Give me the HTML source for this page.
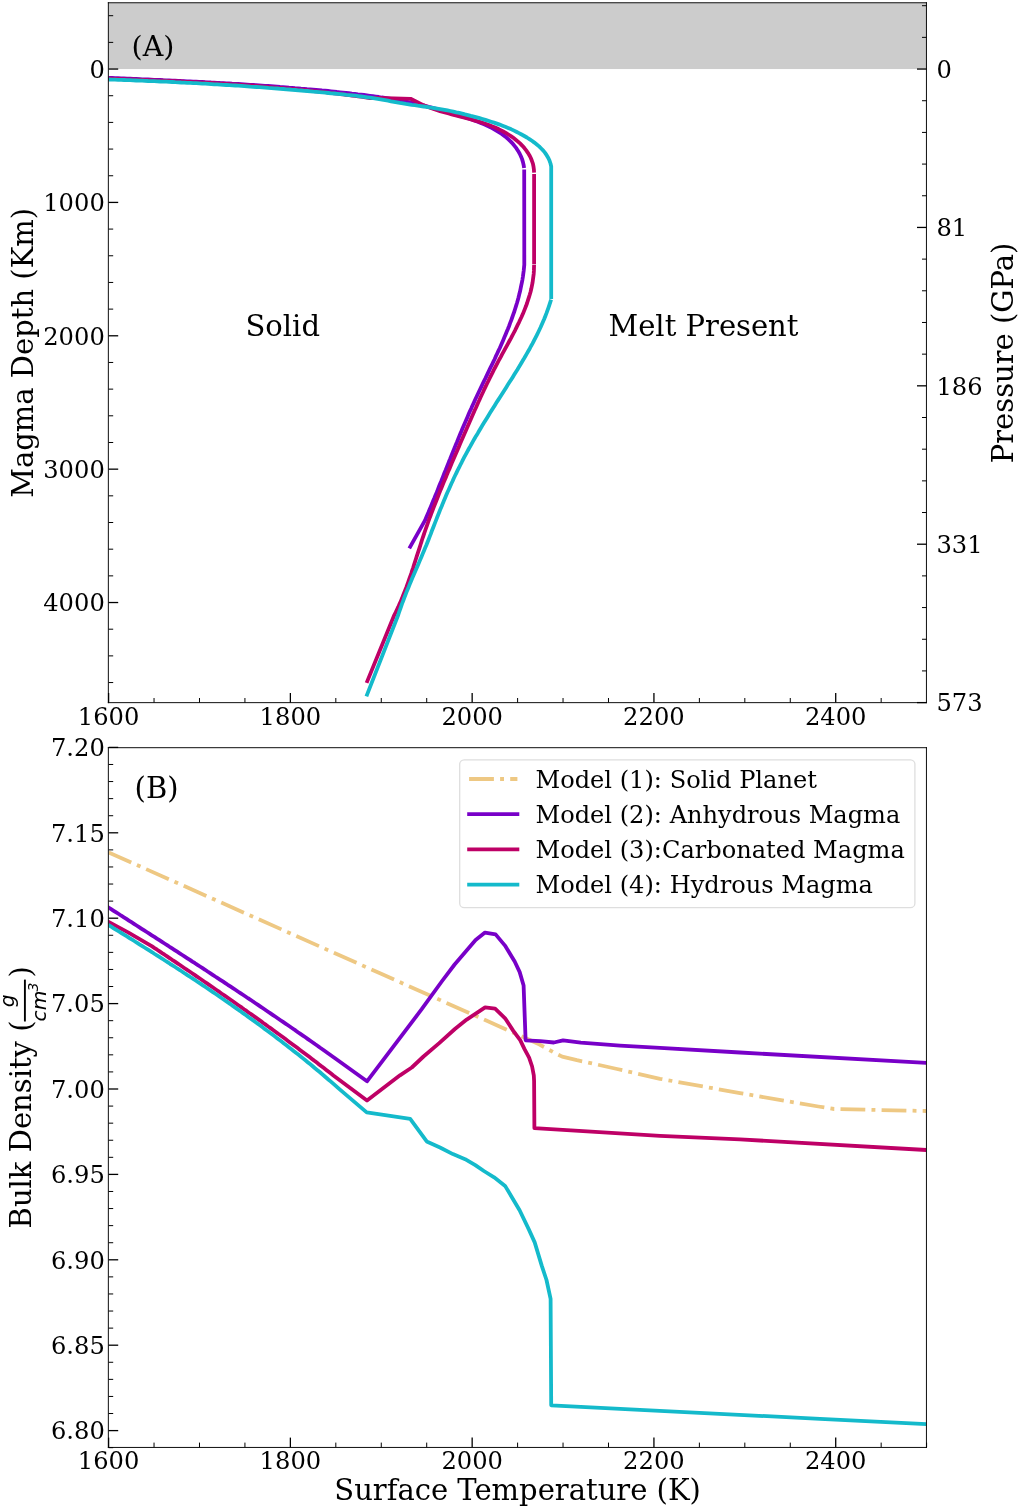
<!DOCTYPE html>
<html><head><meta charset="utf-8"><title>Figure</title>
<style>html,body{margin:0;padding:0;background:#fff;} svg{display:block;}</style>
</head><body>
<svg width="1020" height="1509" viewBox="0 0 1020 1509">
<rect x="0" y="0" width="1020" height="1509" fill="#ffffff"/>
<defs>
<clipPath id="ca"><rect x="108.6" y="3.0" width="818.0" height="699.6"/></clipPath>
<clipPath id="cb"><rect x="108.6" y="747.4" width="818.0" height="699.8000000000001"/></clipPath>
</defs>
<rect x="108.6" y="3.0" width="818.0" height="66.05" fill="#cccccc"/>
<g clip-path="url(#ca)">
<polyline points="100.0,77.5 103.0,77.6 106.0,77.7 109.0,77.9 112.0,78.0 115.0,78.1 118.0,78.2 121.0,78.4 124.0,78.5 127.0,78.6 130.1,78.7 133.1,78.9 136.1,79.0 139.1,79.1 142.1,79.3 145.1,79.4 148.1,79.5 151.1,79.6 154.1,79.8 157.1,79.9 160.1,80.0 163.1,80.2 166.1,80.3 169.1,80.4 172.1,80.6 175.1,80.7 178.1,80.8 181.1,81.0 184.1,81.1 187.1,81.3 190.1,81.4 193.1,81.6 196.1,81.7 199.1,81.9 202.1,82.0 205.1,82.2 208.1,82.3 211.1,82.5 214.1,82.6 217.1,82.8 220.1,83.0 223.1,83.1 226.1,83.3 229.1,83.5 232.1,83.7 235.1,83.8 238.1,84.0 241.0,84.2 244.0,84.4 247.0,84.6 250.0,84.8 253.0,85.0 256.0,85.2 259.0,85.4 262.0,85.6 265.0,85.8 268.0,86.0 271.0,86.2 274.0,86.4 277.0,86.6 280.0,86.9 283.0,87.1 286.0,87.3 289.0,87.6 292.0,87.8 295.0,88.1 298.0,88.3 301.0,88.6 304.0,88.8 307.0,89.1 310.0,89.3 313.0,89.6 316.0,89.9 319.0,90.2 322.0,90.5 325.0,90.7 328.0,91.0 331.0,91.3 333.9,91.6 336.9,92.0 339.9,92.3 342.9,92.6 345.9,92.9 348.9,93.2 351.9,93.6 354.9,93.9 357.9,94.3 360.9,94.6 363.9,95.0 366.9,95.4 369.9,95.8 372.9,96.2 375.8,96.6 378.8,97.0 381.8,97.5 384.8,97.9 387.7,98.4 390.7,98.9 393.6,99.4 396.6,99.9 399.5,100.4 402.5,101.0 405.4,101.6 408.3,102.2 411.3,102.8 414.2,103.4 417.1,104.0 420.0,104.7 422.9,105.4 425.8,106.1 428.7,106.9 431.6,107.6 434.4,108.4 437.3,109.2 440.2,110.0 443.1,110.8 445.9,111.6 448.8,112.5 451.7,113.3 454.6,114.2 457.5,115.1 460.5,115.9 463.4,116.8 466.3,117.8 469.2,118.7 472.1,119.7 475.0,120.7 477.8,121.8 480.7,122.9 483.5,124.1 486.2,125.3 488.9,126.5 491.6,127.9 494.2,129.3 496.8,130.8 499.3,132.4 501.8,134.0 504.1,135.8 506.5,137.6 508.7,139.6 510.8,141.6 512.8,143.8 514.7,146.1 516.5,148.4 518.1,150.9 519.6,153.5 520.9,156.2 522.0,158.9 522.9,161.9 523.6,164.9 524.1,168.0" fill="none" stroke="#7800C8" stroke-width="3.8" stroke-linejoin="round" stroke-linecap="butt" />
<polyline points="524.2,169.6 524.3,264.7 524.0,267.8 523.7,270.8 523.3,273.8 522.9,276.8 522.4,279.8 521.8,282.8 521.2,285.7 520.6,288.7 520.0,291.6 519.2,294.6 518.5,297.5 517.7,300.4 516.9,303.2 516.0,306.1 515.1,309.0 514.2,311.8 513.2,314.7 512.2,317.5 511.2,320.3 510.1,323.2 509.1,326.0 508.0,328.8 506.8,331.6 505.7,334.3 504.5,337.1 503.3,339.9 502.1,342.7 500.9,345.4 499.7,348.2 498.4,350.9 497.1,353.7 495.8,356.4 494.6,359.2 493.3,361.9 492.0,364.7 490.6,367.4 489.3,370.1 488.0,372.9 486.7,375.6 485.4,378.4 484.0,381.1 482.7,383.8 481.4,386.6 480.1,389.3 478.8,392.0 477.5,394.8 476.2,397.5 474.9,400.3 473.7,403.0 472.4,405.8 471.2,408.6 469.9,411.3 468.7,414.1 467.5,416.9 466.3,419.7 465.1,422.4 463.9,425.2 462.7,428.0 461.6,430.8 460.4,433.6 459.2,436.4 458.1,439.2 457.0,442.0 455.8,444.8 454.7,447.6 453.5,450.4 452.4,453.2 451.3,456.0 450.2,458.8 449.0,461.6 447.9,464.4 446.8,467.2 445.7,470.0 444.5,472.8 443.4,475.6 442.3,478.4 441.2,481.2 440.0,484.0 438.9,486.8 437.8,489.6 436.7,492.4 435.5,495.2 434.4,498.0 433.2,500.8 432.1,503.6 430.9,506.4 429.7,509.2 428.6,512.0 427.4,514.8 426.2,517.6 425.0,520.4 409.3,548.4" fill="none" stroke="#7800C8" stroke-width="3.8" stroke-linejoin="round" stroke-linecap="butt" />
<polyline points="100.0,78.3 103.0,78.4 106.0,78.5 109.0,78.6 112.0,78.7 115.0,78.8 118.0,78.9 121.0,79.1 124.1,79.2 127.1,79.3 130.1,79.4 133.1,79.5 136.1,79.6 139.1,79.7 142.1,79.8 145.1,80.0 148.1,80.1 151.1,80.2 154.1,80.3 157.1,80.5 160.1,80.6 163.2,80.7 166.2,80.8 169.2,81.0 172.2,81.1 175.2,81.2 178.2,81.4 181.2,81.5 184.2,81.7 187.2,81.8 190.2,81.9 193.2,82.1 196.2,82.2 199.2,82.4 202.2,82.6 205.2,82.7 208.3,82.9 211.3,83.0 214.3,83.2 217.3,83.4 220.3,83.6 223.3,83.7 226.3,83.9 229.3,84.1 232.3,84.3 235.3,84.5 238.3,84.7 241.3,84.9 244.3,85.1 247.3,85.3 250.3,85.5 253.3,85.7 256.3,85.9 259.3,86.1 262.3,86.4 265.3,86.6 268.3,86.8 271.3,87.1 274.3,87.3 277.3,87.6 280.3,87.8 283.3,88.1 286.3,88.3 289.3,88.6 292.3,88.9 295.3,89.2 298.3,89.5 301.3,89.7 304.3,90.0 307.3,90.3 310.3,90.6 313.3,91.0 316.2,91.3 319.2,91.6 322.2,91.9 325.2,92.2 328.2,92.6 331.2,92.9 334.2,93.3 337.2,93.6 340.2,94.0 343.2,94.4 346.1,94.8 349.1,95.1 352.1,95.5 355.1,95.9 358.1,96.3 361.1,96.7 364.0,97.1 367.0,97.6 370.0,98.0 377.3,98.0 410.6,98.8 423.3,105.1 426.0,106.2 428.7,107.3 431.5,108.3 434.3,109.3 437.2,110.2 440.0,111.1 442.9,111.9 445.8,112.7 448.7,113.5 451.7,114.3 454.6,115.1 457.6,115.8 460.5,116.6 463.5,117.4 466.4,118.2 469.4,118.9 472.3,119.8 475.3,120.6 478.2,121.5 481.1,122.4 483.9,123.3 486.8,124.3 489.6,125.3 492.4,126.4 495.2,127.6 497.9,128.8 500.6,130.1 503.2,131.5 505.8,132.9 508.4,134.5 510.9,136.1 513.3,137.8 515.7,139.7 518.0,141.6 520.3,143.7 522.4,145.8 524.4,148.1 526.2,150.4 527.9,152.8 529.5,155.4 530.8,158.0 531.9,160.8 532.9,163.6 533.5,166.5 533.9,169.6 534.1,172.7" fill="none" stroke="#BE0066" stroke-width="3.8" stroke-linejoin="round" stroke-linecap="butt" />
<polyline points="534.1,174.0 534.1,264.2" fill="none" stroke="#BE0066" stroke-width="3.8" stroke-linejoin="round" stroke-linecap="butt" />
<polyline points="534.1,264.8 534.0,267.8 533.9,270.9 533.7,273.9 533.3,277.0 532.9,280.0 532.5,282.9 531.9,285.9 531.3,288.8 530.6,291.7 529.8,294.5 528.9,297.4 528.0,300.2 527.1,303.0 526.1,305.8 525.0,308.6 523.9,311.4 522.8,314.1 521.6,316.8 520.3,319.5 519.0,322.3 517.7,324.9 516.4,327.6 515.1,330.3 513.7,333.0 512.3,335.6 510.9,338.3 509.4,341.0 508.0,343.6 506.5,346.3 505.1,348.9 503.6,351.6 502.2,354.2 500.8,356.9 499.3,359.5 497.9,362.2 496.5,364.9 495.1,367.5 493.7,370.2 492.4,372.9 491.0,375.6 489.7,378.3 488.4,381.0 487.0,383.7 485.7,386.4 484.4,389.1 483.2,391.8 481.9,394.5 480.6,397.3 479.4,400.0 478.1,402.7 476.9,405.5 475.7,408.2 474.4,410.9 473.2,413.7 472.0,416.4 470.8,419.2 469.6,421.9 468.4,424.7 467.2,427.4 466.0,430.2 464.8,432.9 463.6,435.7 462.4,438.5 461.2,441.2 460.0,444.0 458.9,446.7 457.7,449.5 456.5,452.3 455.3,455.0 454.1,457.8 452.9,460.6 451.7,463.3 450.6,466.1 449.4,468.9 448.2,471.6 447.0,474.4 445.9,477.2 444.7,480.0 443.5,482.7 442.4,485.5 441.3,488.3 440.1,491.1 439.0,493.9 437.9,496.7 436.8,499.5 435.7,502.3 434.6,505.1 433.5,507.9 432.4,510.7 431.3,513.5 430.3,516.3 429.2,519.1 428.2,522.0 427.2,524.8 426.2,527.6 425.2,530.5 424.2,533.3 423.3,536.1 422.3,539.0 421.4,541.8 420.5,544.7 419.6,547.6 418.7,550.4 417.7,553.3 416.8,556.1 415.9,559.0 415.0,561.9 414.1,564.7 413.2,567.6 412.2,570.4 411.3,573.3 410.3,576.1 409.3,578.9 408.3,581.8 407.3,584.6 406.3,587.4 405.2,590.2 404.1,593.0 403.0,595.8 401.9,598.6 400.7,601.4 399.5,604.1 398.3,606.9 397.0,609.6 395.7,612.3 394.3,615.0 366.6,682.9" fill="none" stroke="#BE0066" stroke-width="3.8" stroke-linejoin="round" stroke-linecap="butt" />
<polyline points="100.0,79.2 103.0,79.3 106.0,79.4 109.0,79.5 112.0,79.6 115.0,79.7 118.1,79.8 121.1,79.9 124.1,80.0 127.1,80.1 130.1,80.2 133.1,80.4 136.1,80.5 139.1,80.6 142.1,80.7 145.1,80.8 148.1,81.0 151.2,81.1 154.2,81.2 157.2,81.3 160.2,81.5 163.2,81.6 166.2,81.7 169.2,81.9 172.2,82.0 175.2,82.2 178.2,82.3 181.2,82.5 184.2,82.6 187.2,82.8 190.3,82.9 193.3,83.1 196.3,83.2 199.3,83.4 202.3,83.6 205.3,83.7 208.3,83.9 211.3,84.1 214.3,84.3 217.3,84.4 220.3,84.6 223.3,84.8 226.3,85.0 229.3,85.2 232.3,85.4 235.3,85.5 238.3,85.7 241.4,85.9 244.4,86.1 247.4,86.3 250.4,86.6 253.4,86.8 256.4,87.0 259.4,87.2 262.4,87.4 265.4,87.6 268.4,87.9 271.4,88.1 274.4,88.3 277.4,88.5 280.4,88.8 283.4,89.0 286.4,89.3 289.4,89.5 292.4,89.8 295.4,90.0 298.4,90.3 301.4,90.5 304.4,90.8 307.4,91.0 310.4,91.3 313.4,91.6 316.4,91.8 319.4,92.1 322.4,92.4 325.4,92.7 328.4,93.0 331.4,93.3 334.4,93.5 337.4,93.8 340.4,94.1 343.4,94.4 346.4,94.8 349.4,95.1 352.4,95.4 355.4,95.7 358.3,96.1 361.3,96.5 364.3,96.9 367.3,97.3 370.3,97.7 373.2,98.2 376.2,98.7 379.2,99.2 382.1,99.7 385.1,100.2 388.1,100.7 391.0,101.3 394.0,101.8 397.0,102.3 399.9,102.9 402.9,103.4 405.9,103.9 408.8,104.3 411.8,104.8 414.8,105.2 417.8,105.7 420.8,106.1 423.7,106.5 426.7,106.9 429.7,107.4 432.7,107.8 435.7,108.3 438.6,108.8 441.6,109.3 444.5,109.8 447.5,110.4 450.4,111.0 453.3,111.6 456.3,112.3 459.2,112.9 462.1,113.6 465.0,114.4 467.9,115.1 470.8,115.9 473.8,116.6 476.7,117.4 479.6,118.2 482.5,119.0 485.4,119.9 488.3,120.8 491.1,121.7 494.0,122.6 496.9,123.6 499.7,124.6 502.5,125.7 505.3,126.8 508.1,127.9 510.9,129.1 513.6,130.4 516.3,131.7 519.0,133.1 521.6,134.5 524.3,136.0 526.9,137.5 529.4,139.1 531.9,140.8 534.4,142.6 536.8,144.5 539.1,146.4 541.2,148.5 543.3,150.6 545.1,152.9 546.8,155.4 548.3,157.9 549.5,160.6 550.5,163.5 551.2,166.5 551.2,298.9" fill="none" stroke="#14BACB" stroke-width="3.8" stroke-linejoin="round" stroke-linecap="butt" />
<polyline points="551.1,299.6 549.4,304.9 548.4,307.8 547.4,310.6 546.4,313.4 545.3,316.2 544.2,319.0 543.0,321.8 541.8,324.5 540.6,327.3 539.3,330.0 538.0,332.7 536.7,335.4 535.3,338.1 534.0,340.7 532.6,343.4 531.1,346.0 529.7,348.7 528.2,351.3 526.7,353.9 525.2,356.5 523.7,359.1 522.1,361.7 520.6,364.3 519.0,366.9 517.5,369.5 515.9,372.0 514.3,374.6 512.7,377.2 511.1,379.7 509.4,382.3 507.8,384.8 506.2,387.4 504.6,389.9 503.0,392.5 501.4,395.0 499.8,397.5 498.1,400.1 496.5,402.6 494.9,405.2 493.3,407.7 491.7,410.3 490.1,412.8 488.5,415.4 487.0,417.9 485.4,420.5 483.8,423.1 482.3,425.6 480.7,428.2 479.2,430.8 477.7,433.4 476.1,435.9 474.6,438.5 473.1,441.1 471.6,443.8 470.2,446.4 468.7,449.0 467.3,451.6 465.8,454.3 464.4,456.9 463.0,459.6 461.7,462.3 460.3,465.0 459.0,467.7 457.6,470.4 456.3,473.1 455.0,475.8 453.7,478.5 452.5,481.3 451.2,484.0 450.0,486.8 448.8,489.5 447.5,492.3 446.3,495.1 445.2,497.8 444.0,500.6 442.8,503.4 441.7,506.2 440.5,508.9 439.4,511.7 438.3,514.5 437.2,517.3 436.1,520.1 435.0,522.9 433.9,525.7 432.8,528.5 431.7,531.3 430.7,534.1 429.6,536.9 428.5,539.7 427.4,542.5 426.3,545.3 425.1,548.1 424.0,550.8 422.8,553.6 421.6,556.4 420.4,559.2 419.3,561.9 418.1,564.7 416.9,567.5 415.7,570.2 414.5,573.0 413.3,575.8 412.1,578.5 411.0,581.3 409.8,584.1 408.7,586.9 407.5,589.7 406.4,592.4 405.3,595.2 404.2,598.0 403.2,600.8 402.1,603.7 401.1,606.5 400.1,609.3 399.1,612.2 398.2,615.0 366.4,696.4" fill="none" stroke="#14BACB" stroke-width="3.8" stroke-linejoin="round" stroke-linecap="butt" />
</g>
<g clip-path="url(#cb)">
<polyline points="108.6,852.4 380.0,973.3 520.0,1035.6 539.6,1044.6 555.3,1053.2 562.2,1056.6 576.9,1060.2 586.7,1062.2 617.1,1069.0 660.0,1078.8 740.0,1093.1 818.4,1106.5 834.1,1109.0 926.3,1111.0" fill="none" stroke="#EEC883" stroke-width="3.8" stroke-linejoin="round" stroke-linecap="butt" stroke-dasharray="24.8 6.2 3.9 6.2"/>
<polyline points="100.0,902.0 108.6,907.5 111.1,909.1 113.7,910.8 116.2,912.4 118.8,914.0 121.3,915.7 123.9,917.3 126.4,918.9 128.9,920.6 131.5,922.2 134.0,923.8 136.6,925.5 139.1,927.1 141.7,928.8 144.2,930.4 146.7,932.0 149.3,933.7 151.8,935.3 154.4,936.9 156.9,938.6 159.4,940.2 162.0,941.9 164.5,943.5 167.1,945.1 169.6,946.8 172.1,948.4 174.7,950.1 177.2,951.7 179.7,953.3 182.3,955.0 184.8,956.6 187.4,958.3 189.9,959.9 192.4,961.6 195.0,963.2 197.5,964.9 200.0,966.5 202.6,968.2 205.1,969.8 207.6,971.5 210.1,973.1 212.7,974.8 215.2,976.5 217.7,978.1 220.3,979.8 222.8,981.4 225.3,983.1 227.8,984.8 230.3,986.4 232.9,988.1 235.4,989.8 237.9,991.5 240.4,993.1 242.9,994.8 245.5,996.5 248.0,998.2 250.5,999.8 253.0,1001.5 255.5,1003.2 258.0,1004.9 260.5,1006.6 263.0,1008.3 265.5,1010.0 268.0,1011.7 270.5,1013.4 273.0,1015.1 275.5,1016.8 278.0,1018.5 280.5,1020.2 283.0,1021.9 285.5,1023.6 288.0,1025.3 290.5,1027.0 293.0,1028.7 295.5,1030.4 297.9,1032.2 300.4,1033.9 302.9,1035.6 305.4,1037.3 307.9,1039.1 310.3,1040.8 312.8,1042.5 315.3,1044.3 317.8,1046.0 320.2,1047.8 322.7,1049.5 325.2,1051.3 327.6,1053.0 330.1,1054.8 332.5,1056.5 335.0,1058.3 367.0,1081.3 421.7,1009.2 442.1,981.0 454.6,964.5 475.6,940.0 485.0,932.6 495.6,934.4 505.0,945.6 514.7,961.5 519.7,972.1 523.6,985.5 525.6,1040.3 540.3,1041.2 553.8,1042.5 563.1,1040.3 580.8,1042.7 620.0,1045.7 660.0,1047.9 740.0,1052.5 926.3,1062.9" fill="none" stroke="#7800C8" stroke-width="3.8" stroke-linejoin="round" stroke-linecap="butt" />
<polyline points="100.0,917.0 108.6,921.8 128.5,932.6 152.1,946.4 154.6,948.1 157.1,949.7 159.6,951.4 162.1,953.1 164.6,954.7 167.1,956.4 169.6,958.1 172.1,959.8 174.6,961.4 177.1,963.1 179.6,964.8 182.1,966.5 184.6,968.2 187.1,969.9 189.6,971.5 192.1,973.2 194.6,974.9 197.0,976.6 199.5,978.3 202.0,980.0 204.5,981.7 207.0,983.4 209.5,985.1 211.9,986.8 214.4,988.5 216.9,990.2 219.4,991.9 221.8,993.7 224.3,995.4 226.8,997.1 229.2,998.8 231.7,1000.5 234.2,1002.3 236.6,1004.0 239.1,1005.7 241.6,1007.4 244.0,1009.2 246.5,1010.9 248.9,1012.7 251.4,1014.4 253.8,1016.1 256.3,1017.9 258.7,1019.6 261.2,1021.4 263.6,1023.2 266.1,1024.9 268.5,1026.7 270.9,1028.4 273.4,1030.2 275.8,1032.0 278.2,1033.8 280.6,1035.5 283.1,1037.3 285.5,1039.1 287.9,1040.9 290.3,1042.7 292.7,1044.5 295.2,1046.3 297.6,1048.1 300.0,1049.9 302.4,1051.7 304.8,1053.5 307.2,1055.3 309.6,1057.1 312.0,1058.9 314.4,1060.8 316.8,1062.6 319.1,1064.4 321.5,1066.3 323.9,1068.1 326.3,1069.9 328.7,1071.8 331.0,1073.6 333.4,1075.5 367.0,1100.6 400.0,1075.3 411.8,1067.5 423.5,1056.5 439.2,1043.1 454.9,1029.0 466.7,1019.6 478.0,1012.1 485.1,1007.4 495.1,1008.6 505.1,1018.3 513.3,1030.9 520.2,1040.2 524.4,1048.8 529.1,1057.6 532.1,1066.5 533.8,1075.3 534.1,1081.2 534.4,1128.2 660.0,1135.8 740.0,1139.4 926.3,1150.0" fill="none" stroke="#BE0066" stroke-width="3.8" stroke-linejoin="round" stroke-linecap="butt" />
<polyline points="100.0,919.9 108.6,925.1 111.2,926.7 113.7,928.3 116.3,929.9 118.9,931.5 121.4,933.0 124.0,934.6 126.6,936.2 129.1,937.8 131.7,939.4 134.3,941.0 136.8,942.7 139.4,944.3 141.9,945.9 144.5,947.5 147.1,949.1 149.6,950.7 152.2,952.3 154.7,954.0 157.3,955.6 159.8,957.2 162.4,958.8 164.9,960.5 167.5,962.1 170.0,963.8 172.5,965.4 175.1,967.0 177.6,968.7 180.2,970.3 182.7,972.0 185.2,973.7 187.7,975.3 190.3,977.0 192.8,978.6 195.3,980.3 197.8,982.0 200.4,983.7 202.9,985.4 205.4,987.0 207.9,988.7 210.4,990.4 212.9,992.1 215.4,993.8 217.9,995.5 220.4,997.3 222.9,999.0 225.4,1000.7 227.9,1002.4 230.4,1004.1 232.8,1005.9 235.3,1007.6 237.8,1009.4 240.3,1011.1 242.7,1012.9 245.2,1014.6 247.6,1016.4 250.1,1018.2 252.5,1019.9 255.0,1021.7 257.4,1023.5 259.9,1025.3 262.3,1027.1 264.7,1028.9 267.2,1030.7 269.6,1032.5 272.0,1034.3 274.4,1036.1 276.8,1037.9 279.2,1039.8 281.6,1041.6 284.0,1043.5 286.4,1045.3 288.8,1047.2 291.2,1049.0 293.6,1050.9 295.9,1052.8 298.3,1054.6 300.7,1056.5 303.0,1058.4 305.4,1060.3 307.7,1062.2 310.1,1064.1 312.4,1066.0 314.7,1068.0 317.1,1069.9 319.4,1071.8 321.7,1073.8 324.0,1075.7 326.3,1077.7 328.6,1079.7 330.9,1081.6 333.2,1083.6 335.5,1085.6 337.7,1087.6 340.0,1089.6 366.7,1112.4 410.2,1118.8 426.7,1141.4 440.0,1147.5 452.9,1154.1 465.1,1159.2 475.3,1165.1 483.9,1171.0 494.1,1177.3 505.1,1185.9 519.6,1210.2 528.8,1229.4 534.7,1242.4 541.8,1265.9 546.5,1280.0 550.6,1298.8 551.2,1405.3 630.0,1409.4 820.0,1418.8 926.4,1424.2" fill="none" stroke="#14BACB" stroke-width="3.8" stroke-linejoin="round" stroke-linecap="butt" />
</g>
<line x1="108.60" y1="702.60" x2="108.60" y2="693.00" stroke="#000" stroke-width="1.3"/>
<line x1="108.60" y1="1447.20" x2="108.60" y2="1437.60" stroke="#000" stroke-width="1.3"/>
<line x1="154.04" y1="702.60" x2="154.04" y2="698.00" stroke="#000" stroke-width="1.0"/>
<line x1="154.04" y1="1447.20" x2="154.04" y2="1442.60" stroke="#000" stroke-width="1.0"/>
<line x1="199.49" y1="702.60" x2="199.49" y2="698.00" stroke="#000" stroke-width="1.0"/>
<line x1="199.49" y1="1447.20" x2="199.49" y2="1442.60" stroke="#000" stroke-width="1.0"/>
<line x1="244.93" y1="702.60" x2="244.93" y2="698.00" stroke="#000" stroke-width="1.0"/>
<line x1="244.93" y1="1447.20" x2="244.93" y2="1442.60" stroke="#000" stroke-width="1.0"/>
<line x1="290.38" y1="702.60" x2="290.38" y2="693.00" stroke="#000" stroke-width="1.3"/>
<line x1="290.38" y1="1447.20" x2="290.38" y2="1437.60" stroke="#000" stroke-width="1.3"/>
<line x1="335.82" y1="702.60" x2="335.82" y2="698.00" stroke="#000" stroke-width="1.0"/>
<line x1="335.82" y1="1447.20" x2="335.82" y2="1442.60" stroke="#000" stroke-width="1.0"/>
<line x1="381.27" y1="702.60" x2="381.27" y2="698.00" stroke="#000" stroke-width="1.0"/>
<line x1="381.27" y1="1447.20" x2="381.27" y2="1442.60" stroke="#000" stroke-width="1.0"/>
<line x1="426.71" y1="702.60" x2="426.71" y2="698.00" stroke="#000" stroke-width="1.0"/>
<line x1="426.71" y1="1447.20" x2="426.71" y2="1442.60" stroke="#000" stroke-width="1.0"/>
<line x1="472.16" y1="702.60" x2="472.16" y2="693.00" stroke="#000" stroke-width="1.3"/>
<line x1="472.16" y1="1447.20" x2="472.16" y2="1437.60" stroke="#000" stroke-width="1.3"/>
<line x1="517.60" y1="702.60" x2="517.60" y2="698.00" stroke="#000" stroke-width="1.0"/>
<line x1="517.60" y1="1447.20" x2="517.60" y2="1442.60" stroke="#000" stroke-width="1.0"/>
<line x1="563.04" y1="702.60" x2="563.04" y2="698.00" stroke="#000" stroke-width="1.0"/>
<line x1="563.04" y1="1447.20" x2="563.04" y2="1442.60" stroke="#000" stroke-width="1.0"/>
<line x1="608.49" y1="702.60" x2="608.49" y2="698.00" stroke="#000" stroke-width="1.0"/>
<line x1="608.49" y1="1447.20" x2="608.49" y2="1442.60" stroke="#000" stroke-width="1.0"/>
<line x1="653.93" y1="702.60" x2="653.93" y2="693.00" stroke="#000" stroke-width="1.3"/>
<line x1="653.93" y1="1447.20" x2="653.93" y2="1437.60" stroke="#000" stroke-width="1.3"/>
<line x1="699.38" y1="702.60" x2="699.38" y2="698.00" stroke="#000" stroke-width="1.0"/>
<line x1="699.38" y1="1447.20" x2="699.38" y2="1442.60" stroke="#000" stroke-width="1.0"/>
<line x1="744.82" y1="702.60" x2="744.82" y2="698.00" stroke="#000" stroke-width="1.0"/>
<line x1="744.82" y1="1447.20" x2="744.82" y2="1442.60" stroke="#000" stroke-width="1.0"/>
<line x1="790.27" y1="702.60" x2="790.27" y2="698.00" stroke="#000" stroke-width="1.0"/>
<line x1="790.27" y1="1447.20" x2="790.27" y2="1442.60" stroke="#000" stroke-width="1.0"/>
<line x1="835.71" y1="702.60" x2="835.71" y2="693.00" stroke="#000" stroke-width="1.3"/>
<line x1="835.71" y1="1447.20" x2="835.71" y2="1437.60" stroke="#000" stroke-width="1.3"/>
<line x1="881.16" y1="702.60" x2="881.16" y2="698.00" stroke="#000" stroke-width="1.0"/>
<line x1="881.16" y1="1447.20" x2="881.16" y2="1442.60" stroke="#000" stroke-width="1.0"/>
<line x1="926.60" y1="1447.20" x2="926.60" y2="1442.60" stroke="#000" stroke-width="1.0"/>
<line x1="108.60" y1="15.70" x2="113.20" y2="15.70" stroke="#000" stroke-width="1.0"/>
<line x1="108.60" y1="42.38" x2="113.20" y2="42.38" stroke="#000" stroke-width="1.0"/>
<line x1="108.60" y1="69.05" x2="118.20" y2="69.05" stroke="#000" stroke-width="1.3"/>
<line x1="108.60" y1="95.72" x2="113.20" y2="95.72" stroke="#000" stroke-width="1.0"/>
<line x1="108.60" y1="122.40" x2="113.20" y2="122.40" stroke="#000" stroke-width="1.0"/>
<line x1="108.60" y1="149.07" x2="113.20" y2="149.07" stroke="#000" stroke-width="1.0"/>
<line x1="108.60" y1="175.75" x2="113.20" y2="175.75" stroke="#000" stroke-width="1.0"/>
<line x1="108.60" y1="202.42" x2="118.20" y2="202.42" stroke="#000" stroke-width="1.3"/>
<line x1="108.60" y1="229.09" x2="113.20" y2="229.09" stroke="#000" stroke-width="1.0"/>
<line x1="108.60" y1="255.77" x2="113.20" y2="255.77" stroke="#000" stroke-width="1.0"/>
<line x1="108.60" y1="282.44" x2="113.20" y2="282.44" stroke="#000" stroke-width="1.0"/>
<line x1="108.60" y1="309.12" x2="113.20" y2="309.12" stroke="#000" stroke-width="1.0"/>
<line x1="108.60" y1="335.79" x2="118.20" y2="335.79" stroke="#000" stroke-width="1.3"/>
<line x1="108.60" y1="362.46" x2="113.20" y2="362.46" stroke="#000" stroke-width="1.0"/>
<line x1="108.60" y1="389.14" x2="113.20" y2="389.14" stroke="#000" stroke-width="1.0"/>
<line x1="108.60" y1="415.81" x2="113.20" y2="415.81" stroke="#000" stroke-width="1.0"/>
<line x1="108.60" y1="442.49" x2="113.20" y2="442.49" stroke="#000" stroke-width="1.0"/>
<line x1="108.60" y1="469.16" x2="118.20" y2="469.16" stroke="#000" stroke-width="1.3"/>
<line x1="108.60" y1="495.83" x2="113.20" y2="495.83" stroke="#000" stroke-width="1.0"/>
<line x1="108.60" y1="522.51" x2="113.20" y2="522.51" stroke="#000" stroke-width="1.0"/>
<line x1="108.60" y1="549.18" x2="113.20" y2="549.18" stroke="#000" stroke-width="1.0"/>
<line x1="108.60" y1="575.86" x2="113.20" y2="575.86" stroke="#000" stroke-width="1.0"/>
<line x1="108.60" y1="602.53" x2="118.20" y2="602.53" stroke="#000" stroke-width="1.3"/>
<line x1="108.60" y1="629.20" x2="113.20" y2="629.20" stroke="#000" stroke-width="1.0"/>
<line x1="108.60" y1="655.88" x2="113.20" y2="655.88" stroke="#000" stroke-width="1.0"/>
<line x1="108.60" y1="682.55" x2="113.20" y2="682.55" stroke="#000" stroke-width="1.0"/>
<line x1="926.60" y1="5.69" x2="922.00" y2="5.69" stroke="#000" stroke-width="1.0"/>
<line x1="926.60" y1="37.37" x2="922.00" y2="37.37" stroke="#000" stroke-width="1.0"/>
<line x1="926.60" y1="69.05" x2="917.00" y2="69.05" stroke="#000" stroke-width="1.3"/>
<line x1="926.60" y1="100.73" x2="922.00" y2="100.73" stroke="#000" stroke-width="1.0"/>
<line x1="926.60" y1="132.41" x2="922.00" y2="132.41" stroke="#000" stroke-width="1.0"/>
<line x1="926.60" y1="164.08" x2="922.00" y2="164.08" stroke="#000" stroke-width="1.0"/>
<line x1="926.60" y1="195.76" x2="922.00" y2="195.76" stroke="#000" stroke-width="1.0"/>
<line x1="926.60" y1="227.44" x2="917.00" y2="227.44" stroke="#000" stroke-width="1.3"/>
<line x1="926.60" y1="259.12" x2="922.00" y2="259.12" stroke="#000" stroke-width="1.0"/>
<line x1="926.60" y1="290.79" x2="922.00" y2="290.79" stroke="#000" stroke-width="1.0"/>
<line x1="926.60" y1="322.47" x2="922.00" y2="322.47" stroke="#000" stroke-width="1.0"/>
<line x1="926.60" y1="354.15" x2="922.00" y2="354.15" stroke="#000" stroke-width="1.0"/>
<line x1="926.60" y1="385.83" x2="917.00" y2="385.83" stroke="#000" stroke-width="1.3"/>
<line x1="926.60" y1="417.50" x2="922.00" y2="417.50" stroke="#000" stroke-width="1.0"/>
<line x1="926.60" y1="449.18" x2="922.00" y2="449.18" stroke="#000" stroke-width="1.0"/>
<line x1="926.60" y1="480.86" x2="922.00" y2="480.86" stroke="#000" stroke-width="1.0"/>
<line x1="926.60" y1="512.53" x2="922.00" y2="512.53" stroke="#000" stroke-width="1.0"/>
<line x1="926.60" y1="544.21" x2="917.00" y2="544.21" stroke="#000" stroke-width="1.3"/>
<line x1="926.60" y1="575.89" x2="922.00" y2="575.89" stroke="#000" stroke-width="1.0"/>
<line x1="926.60" y1="607.57" x2="922.00" y2="607.57" stroke="#000" stroke-width="1.0"/>
<line x1="926.60" y1="639.25" x2="922.00" y2="639.25" stroke="#000" stroke-width="1.0"/>
<line x1="926.60" y1="670.92" x2="922.00" y2="670.92" stroke="#000" stroke-width="1.0"/>
<line x1="926.60" y1="702.60" x2="917.00" y2="702.60" stroke="#000" stroke-width="1.3"/>
<line x1="108.60" y1="747.40" x2="118.20" y2="747.40" stroke="#000" stroke-width="1.3"/>
<line x1="108.60" y1="764.48" x2="113.20" y2="764.48" stroke="#000" stroke-width="1.0"/>
<line x1="108.60" y1="781.56" x2="113.20" y2="781.56" stroke="#000" stroke-width="1.0"/>
<line x1="108.60" y1="798.64" x2="113.20" y2="798.64" stroke="#000" stroke-width="1.0"/>
<line x1="108.60" y1="815.72" x2="113.20" y2="815.72" stroke="#000" stroke-width="1.0"/>
<line x1="108.60" y1="832.80" x2="118.20" y2="832.80" stroke="#000" stroke-width="1.3"/>
<line x1="108.60" y1="849.88" x2="113.20" y2="849.88" stroke="#000" stroke-width="1.0"/>
<line x1="108.60" y1="866.96" x2="113.20" y2="866.96" stroke="#000" stroke-width="1.0"/>
<line x1="108.60" y1="884.04" x2="113.20" y2="884.04" stroke="#000" stroke-width="1.0"/>
<line x1="108.60" y1="901.12" x2="113.20" y2="901.12" stroke="#000" stroke-width="1.0"/>
<line x1="108.60" y1="918.20" x2="118.20" y2="918.20" stroke="#000" stroke-width="1.3"/>
<line x1="108.60" y1="935.28" x2="113.20" y2="935.28" stroke="#000" stroke-width="1.0"/>
<line x1="108.60" y1="952.36" x2="113.20" y2="952.36" stroke="#000" stroke-width="1.0"/>
<line x1="108.60" y1="969.44" x2="113.20" y2="969.44" stroke="#000" stroke-width="1.0"/>
<line x1="108.60" y1="986.52" x2="113.20" y2="986.52" stroke="#000" stroke-width="1.0"/>
<line x1="108.60" y1="1003.60" x2="118.20" y2="1003.60" stroke="#000" stroke-width="1.3"/>
<line x1="108.60" y1="1020.68" x2="113.20" y2="1020.68" stroke="#000" stroke-width="1.0"/>
<line x1="108.60" y1="1037.76" x2="113.20" y2="1037.76" stroke="#000" stroke-width="1.0"/>
<line x1="108.60" y1="1054.84" x2="113.20" y2="1054.84" stroke="#000" stroke-width="1.0"/>
<line x1="108.60" y1="1071.92" x2="113.20" y2="1071.92" stroke="#000" stroke-width="1.0"/>
<line x1="108.60" y1="1089.00" x2="118.20" y2="1089.00" stroke="#000" stroke-width="1.3"/>
<line x1="108.60" y1="1106.08" x2="113.20" y2="1106.08" stroke="#000" stroke-width="1.0"/>
<line x1="108.60" y1="1123.16" x2="113.20" y2="1123.16" stroke="#000" stroke-width="1.0"/>
<line x1="108.60" y1="1140.24" x2="113.20" y2="1140.24" stroke="#000" stroke-width="1.0"/>
<line x1="108.60" y1="1157.32" x2="113.20" y2="1157.32" stroke="#000" stroke-width="1.0"/>
<line x1="108.60" y1="1174.40" x2="118.20" y2="1174.40" stroke="#000" stroke-width="1.3"/>
<line x1="108.60" y1="1191.48" x2="113.20" y2="1191.48" stroke="#000" stroke-width="1.0"/>
<line x1="108.60" y1="1208.56" x2="113.20" y2="1208.56" stroke="#000" stroke-width="1.0"/>
<line x1="108.60" y1="1225.64" x2="113.20" y2="1225.64" stroke="#000" stroke-width="1.0"/>
<line x1="108.60" y1="1242.72" x2="113.20" y2="1242.72" stroke="#000" stroke-width="1.0"/>
<line x1="108.60" y1="1259.80" x2="118.20" y2="1259.80" stroke="#000" stroke-width="1.3"/>
<line x1="108.60" y1="1276.88" x2="113.20" y2="1276.88" stroke="#000" stroke-width="1.0"/>
<line x1="108.60" y1="1293.96" x2="113.20" y2="1293.96" stroke="#000" stroke-width="1.0"/>
<line x1="108.60" y1="1311.04" x2="113.20" y2="1311.04" stroke="#000" stroke-width="1.0"/>
<line x1="108.60" y1="1328.12" x2="113.20" y2="1328.12" stroke="#000" stroke-width="1.0"/>
<line x1="108.60" y1="1345.20" x2="118.20" y2="1345.20" stroke="#000" stroke-width="1.3"/>
<line x1="108.60" y1="1362.28" x2="113.20" y2="1362.28" stroke="#000" stroke-width="1.0"/>
<line x1="108.60" y1="1379.36" x2="113.20" y2="1379.36" stroke="#000" stroke-width="1.0"/>
<line x1="108.60" y1="1396.44" x2="113.20" y2="1396.44" stroke="#000" stroke-width="1.0"/>
<line x1="108.60" y1="1413.52" x2="113.20" y2="1413.52" stroke="#000" stroke-width="1.0"/>
<line x1="108.60" y1="1430.60" x2="118.20" y2="1430.60" stroke="#000" stroke-width="1.3"/>
<line x1="108.60" y1="1447.68" x2="113.20" y2="1447.68" stroke="#000" stroke-width="1.0"/>
<path d="M108.35,2.75 H926.45 M108.35,702.65 H926.45 M108.35,2.75 V702.65 M926.45,2.75 V702.65" fill="none" stroke="#000" stroke-width="0.95" stroke-linecap="square"/>
<path d="M108.35,747.7 H926.45 M108.35,1447.45 H926.45 M108.35,747.7 V1447.45 M926.45,747.7 V1447.45" fill="none" stroke="#000" stroke-width="0.95" stroke-linecap="square"/>
<rect x="459.7" y="759.8" width="455.2" height="147.9" rx="4.5" ry="4.5" fill="#ffffff" fill-opacity="0.8" stroke="#dedede" stroke-width="1.3"/>
<line x1="469.1" y1="779.0" x2="517.4" y2="779.0" stroke="#EEC883" stroke-width="3.8" stroke-dasharray="24.8 6.2 3.9 6.2"/>
<text x="535.5" y="787.7" font-size="24.1" fill="#000" font-family="'DejaVu Serif', 'Liberation Serif', serif">Model (1): Solid Planet</text>
<line x1="469.1" y1="814.2" x2="517.4" y2="814.2" stroke="#7800C8" stroke-width="3.8" stroke-linecap="square"/>
<text x="535.5" y="822.9" font-size="24.1" fill="#000" font-family="'DejaVu Serif', 'Liberation Serif', serif">Model (2): Anhydrous Magma</text>
<line x1="469.1" y1="849.4" x2="517.4" y2="849.4" stroke="#BE0066" stroke-width="3.8" stroke-linecap="square"/>
<text x="535.5" y="858.1" font-size="24.1" fill="#000" font-family="'DejaVu Serif', 'Liberation Serif', serif">Model (3):Carbonated Magma</text>
<line x1="469.1" y1="884.6" x2="517.4" y2="884.6" stroke="#14BACB" stroke-width="3.8" stroke-linecap="square"/>
<text x="535.5" y="893.3" font-size="24.1" fill="#000" font-family="'DejaVu Serif', 'Liberation Serif', serif">Model (4): Hydrous Magma</text>
<text x="104.8" y="77.8" font-size="24.2" text-anchor="end" fill="#000" font-family="'DejaVu Serif', 'Liberation Serif', serif" >0</text>
<text x="104.8" y="211.2" font-size="24.2" text-anchor="end" fill="#000" font-family="'DejaVu Serif', 'Liberation Serif', serif" >1000</text>
<text x="104.8" y="344.6" font-size="24.2" text-anchor="end" fill="#000" font-family="'DejaVu Serif', 'Liberation Serif', serif" >2000</text>
<text x="104.8" y="478.0" font-size="24.2" text-anchor="end" fill="#000" font-family="'DejaVu Serif', 'Liberation Serif', serif" >3000</text>
<text x="104.8" y="611.3" font-size="24.2" text-anchor="end" fill="#000" font-family="'DejaVu Serif', 'Liberation Serif', serif" >4000</text>
<text x="108.6" y="724.6" font-size="24.2" text-anchor="middle" fill="#000" font-family="'DejaVu Serif', 'Liberation Serif', serif" >1600</text>
<text x="108.6" y="1469.4" font-size="24.2" text-anchor="middle" fill="#000" font-family="'DejaVu Serif', 'Liberation Serif', serif" >1600</text>
<text x="290.4" y="724.6" font-size="24.2" text-anchor="middle" fill="#000" font-family="'DejaVu Serif', 'Liberation Serif', serif" >1800</text>
<text x="290.4" y="1469.4" font-size="24.2" text-anchor="middle" fill="#000" font-family="'DejaVu Serif', 'Liberation Serif', serif" >1800</text>
<text x="472.2" y="724.6" font-size="24.2" text-anchor="middle" fill="#000" font-family="'DejaVu Serif', 'Liberation Serif', serif" >2000</text>
<text x="472.2" y="1469.4" font-size="24.2" text-anchor="middle" fill="#000" font-family="'DejaVu Serif', 'Liberation Serif', serif" >2000</text>
<text x="653.9" y="724.6" font-size="24.2" text-anchor="middle" fill="#000" font-family="'DejaVu Serif', 'Liberation Serif', serif" >2200</text>
<text x="653.9" y="1469.4" font-size="24.2" text-anchor="middle" fill="#000" font-family="'DejaVu Serif', 'Liberation Serif', serif" >2200</text>
<text x="835.7" y="724.6" font-size="24.2" text-anchor="middle" fill="#000" font-family="'DejaVu Serif', 'Liberation Serif', serif" >2400</text>
<text x="835.7" y="1469.4" font-size="24.2" text-anchor="middle" fill="#000" font-family="'DejaVu Serif', 'Liberation Serif', serif" >2400</text>
<text x="936.4" y="77.8" font-size="24.2" text-anchor="start" fill="#000" font-family="'DejaVu Serif', 'Liberation Serif', serif" >0</text>
<text x="936.4" y="236.2" font-size="24.2" text-anchor="start" fill="#000" font-family="'DejaVu Serif', 'Liberation Serif', serif" >81</text>
<text x="936.4" y="394.6" font-size="24.2" text-anchor="start" fill="#000" font-family="'DejaVu Serif', 'Liberation Serif', serif" >186</text>
<text x="936.4" y="553.0" font-size="24.2" text-anchor="start" fill="#000" font-family="'DejaVu Serif', 'Liberation Serif', serif" >331</text>
<text x="936.4" y="711.4" font-size="24.2" text-anchor="start" fill="#000" font-family="'DejaVu Serif', 'Liberation Serif', serif" >573</text>
<text x="104.8" y="756.2" font-size="24.2" text-anchor="end" fill="#000" font-family="'DejaVu Serif', 'Liberation Serif', serif" >7.20</text>
<text x="104.8" y="841.6" font-size="24.2" text-anchor="end" fill="#000" font-family="'DejaVu Serif', 'Liberation Serif', serif" >7.15</text>
<text x="104.8" y="927.0" font-size="24.2" text-anchor="end" fill="#000" font-family="'DejaVu Serif', 'Liberation Serif', serif" >7.10</text>
<text x="104.8" y="1012.4" font-size="24.2" text-anchor="end" fill="#000" font-family="'DejaVu Serif', 'Liberation Serif', serif" >7.05</text>
<text x="104.8" y="1097.8" font-size="24.2" text-anchor="end" fill="#000" font-family="'DejaVu Serif', 'Liberation Serif', serif" >7.00</text>
<text x="104.8" y="1183.2" font-size="24.2" text-anchor="end" fill="#000" font-family="'DejaVu Serif', 'Liberation Serif', serif" >6.95</text>
<text x="104.8" y="1268.6" font-size="24.2" text-anchor="end" fill="#000" font-family="'DejaVu Serif', 'Liberation Serif', serif" >6.90</text>
<text x="104.8" y="1354.0" font-size="24.2" text-anchor="end" fill="#000" font-family="'DejaVu Serif', 'Liberation Serif', serif" >6.85</text>
<text x="104.8" y="1439.4" font-size="24.2" text-anchor="end" fill="#000" font-family="'DejaVu Serif', 'Liberation Serif', serif" >6.80</text>
<text x="131.6" y="55.8" font-size="28.5" text-anchor="start" fill="#000" font-family="'DejaVu Serif', 'Liberation Serif', serif" >(A)</text>
<text x="134.6" y="798.3" font-size="29" text-anchor="start" fill="#000" font-family="'DejaVu Serif', 'Liberation Serif', serif" >(B)</text>
<text x="245.5" y="336.2" font-size="29" text-anchor="start" fill="#000" font-family="'DejaVu Serif', 'Liberation Serif', serif" >Solid</text>
<text x="608.5" y="336.2" font-size="29" text-anchor="start" fill="#000" font-family="'DejaVu Serif', 'Liberation Serif', serif" >Melt Present</text>
<text x="517.6" y="1499.6" font-size="29" text-anchor="middle" fill="#000" font-family="'DejaVu Serif', 'Liberation Serif', serif" >Surface Temperature (K)</text>
<text transform="translate(32.8,352.8) rotate(-90)" font-size="29" text-anchor="middle" fill="#000" font-family="'DejaVu Serif', 'Liberation Serif', serif">Magma Depth (Km)</text>
<text transform="translate(1012.5,353) rotate(-90)" font-size="29" text-anchor="middle" fill="#000" font-family="'DejaVu Serif', 'Liberation Serif', serif">Pressure (GPa)</text>
<g transform="translate(30.8,1228.4) rotate(-90)">
<text x="0" y="0" font-size="29" fill="#000" font-family="'DejaVu Serif', 'Liberation Serif', serif">Bulk Density (</text>
<text x="221.2" y="-17.2" font-size="20.3" font-style="italic" fill="#000" font-family="'DejaVu Sans', sans-serif">g</text>
<line x1="206.9" y1="-5.9" x2="248.8" y2="-5.9" stroke="#000" stroke-width="1.9"/>
<text x="206.9" y="14.9" font-size="20.3" font-style="italic" fill="#000" font-family="'DejaVu Sans', sans-serif">cm</text>
<text x="237.0" y="7.1" font-size="14" font-style="italic" fill="#000" font-family="'DejaVu Sans', sans-serif">3</text>
<text x="251.0" y="0" font-size="29" fill="#000" font-family="'DejaVu Serif', 'Liberation Serif', serif">)</text>
</g>
</svg>
</body></html>
